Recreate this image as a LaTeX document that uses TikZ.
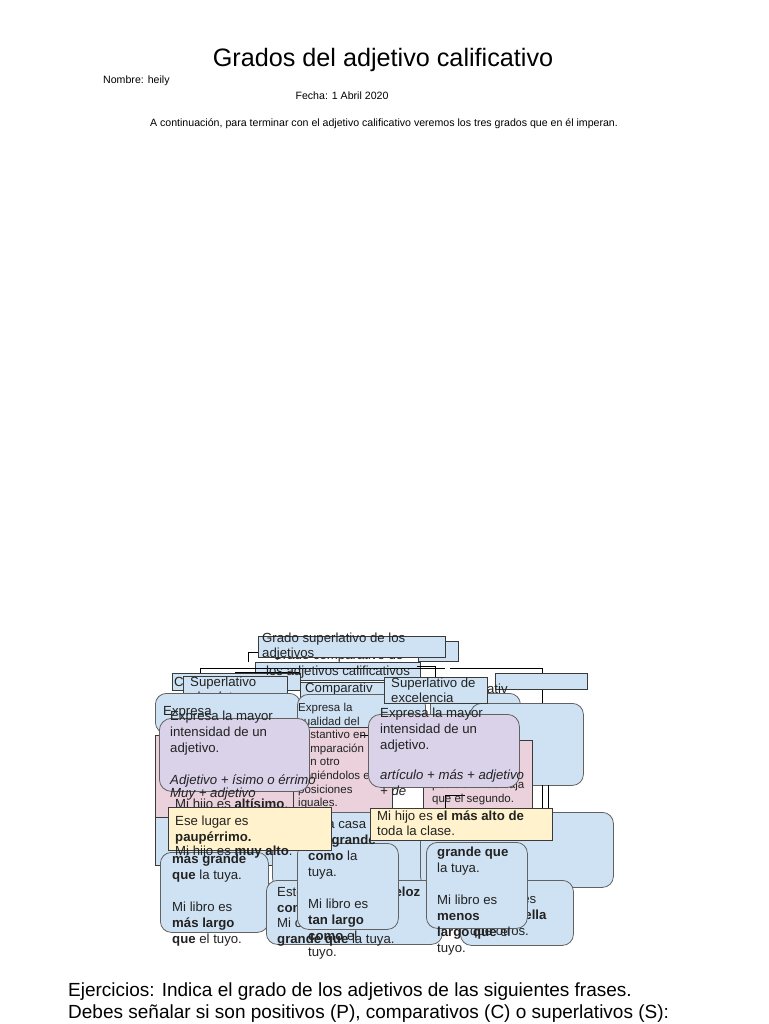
\documentclass[tikz,border=0pt]{standalone}
\usepackage{fontspec}
\setmainfont{Liberation Sans}
\definecolor{bluef}{HTML}{CFE2F3}
\definecolor{purf}{HTML}{D9D2E9}
\definecolor{pinkf}{HTML}{EAD1DC}
\definecolor{yelf}{HTML}{FFF2CC}
\definecolor{edgec}{HTML}{3A3A3A}
\definecolor{txtc}{HTML}{222222}
\tikzset{
  hdr/.style={draw=edgec, fill=bluef, line width=0.9pt, inner sep=0, anchor=north west},
  rbl/.style={draw=edgec!80, fill=bluef, line width=0.8pt, rounded corners=11pt, inner sep=0, anchor=north west},
  pur/.style={draw=edgec!80, fill=purf, line width=0.8pt, rounded corners=12pt, inner sep=0, anchor=north west},
  pnk/.style={draw=edgec, fill=pinkf, line width=0.8pt, inner sep=0, anchor=north west},
  yel/.style={draw=edgec, fill=yelf, line width=0.9pt, inner sep=0, anchor=north west},
  txt/.style={anchor=north west, inner sep=0, align=left, text=txtc, font=\fontsize{13.2}{16}\selectfont},
  txth/.style={txt, font=\fontsize{13.2}{14.5}\selectfont},
  txts/.style={txt, font=\fontsize{11.5}{13.6}\selectfont},
  conn/.style={draw=black, line width=0.9pt},
  plain/.style={inner sep=0, text=black}
}
\begin{document}
\begin{tikzpicture}[x=1pt,y=-1pt]
\useasboundingbox (0,0) rectangle (768,1024);
\fill[white] (0,0) rectangle (768,1024);

% header texts
\node[plain, font=\fontsize{25.2}{28}\selectfont] (title) at (383,60) {Grados del adjetivo calificativo};
\node[plain, anchor=west, font=\fontsize{10.6}{12}\selectfont] (nombre) at (103,81) {Nombre: heily};
\node[plain, font=\fontsize{10.6}{12}\selectfont] (fecha) at (342,96) {Fecha: 1 Abril 2020};
\node[plain, font=\fontsize{10.6}{12}\selectfont] (intro) at (384,124) {A continuación, para terminar con el adjetivo calificativo veremos los tres grados que en él imperan.};

% tree connectors (behind the boxes)
\coordinate (j1) at (200,668);
\coordinate (j2) at (445,668);
\coordinate (j3) at (235,672);
\coordinate (j4) at (300,672);
\coordinate (j5) at (417,666);
\coordinate (j6) at (435,666);
\coordinate (j7) at (450,668);
\coordinate (j8) at (542,668);
\coordinate (j9) at (360,735);
\coordinate (j10) at (372,735);

% header boxes
\node[hdr, minimum width=165, minimum height=18] (hB) at (255,662) {};
\node[hdr, minimum width=128, minimum height=17] (hC1) at (172,673) {};
\node[hdr, minimum width=92, minimum height=16] (hG) at (495,673) {};
\node[hdr, minimum width=40, minimum height=20] (hR) at (418,641) {};
\draw[conn] (j1) -- (j2);
\draw[conn] (j1) -- (hC1.north -| j1);
\draw[conn] (j3) -- (j4);
\draw[conn] (j5) -- (j6) -- (j6 |- hB.south);
\draw[conn] (j7) -- (j8) -- (hG.north -| j8);
\draw[conn] (hB.north) ++(-90,0) -- ++(0,-10) -- ++(190,0);
\node[txt, align=center, anchor=north] (tB) at (338,650) {Grado comparativo de\\los adjetivos calificativos};
\node[hdr, minimum width=187, minimum height=21] (hA) at (258,636) {};
\node[txth] (tA) at (262,633) {Grado superlativo de los\\adjetivos};
\node[txth] (tC1) at (174,677) {Comparativo de};
\node[txth] (tCR) at (440,684) {Comparativ\\o de};
\node[hdr, minimum width=125, minimum height=15] (hCI) at (300,682) {};
\node[txt] (tCI) at (305,683) {Comparativ\\o de\\igualdad};
\node[hdr, minimum width=104, minimum height=28] (hSA) at (183,676) {};
\node[txth] (tSA) at (190,677) {Superlativo\\absoluto};

% middle blue rounded boxes
\node[rbl, minimum width=145, minimum height=40] (rbL) at (155,693) {};
\node[txt] (tbL) at (163,706) {Expresa\\superioridad};
\node[rbl, minimum width=128, minimum height=52] (rbM) at (297,694) {};
\node[rbl, minimum width=90, minimum height=65] (rbR) at (430,693) {};
\node[rbl, minimum width=113, minimum height=82] (rbR2) at (470,703) {};
\draw[conn] (hG.south -| j8) -- (rbR2.north -| j8);
\node[hdr, minimum width=103, minimum height=26] (hSE) at (384,677) {};
\node[txth] (tSE) at (391,678) {Superlativo de\\excelencia};

% pink boxes
\node[pnk, minimum width=145, minimum height=88] (pkL) at (155,735) {};
\node[pnk, minimum width=99, minimum height=88] (pkM) at (293,727) {};
\node[pnk, minimum width=109, minimum height=70] (pkR) at (423,740) {};
\draw[conn] (j9) -- (j10);
\draw[conn] (445,808) -- (445,795) -- (465,795);
\draw[conn] (542,785) -- (542,812);
\draw[conn] (548,785) -- (548,812);
\node[txts] (tpM) at (298,703) {Expresa la\\cualidad del\\sustantivo en\\comparación\\con otro\\poniéndolos en\\posiciones\\iguales.};
\node[txts] (tpR) at (432,780) {posición más baja\\que el segundo.};

% purple boxes
\node[pur, minimum width=150, minimum height=73] (puL) at (159,718) {};
\node[txt] (tuL) at (170,711) {Expresa la mayor\\intensidad de un\\adjetivo.\\[16pt]\textit{Adjetivo + ísimo o érrimo}};
\node[pur, minimum width=151, minimum height=73] (puR) at (368,714) {};
\node[txt] (tuR) at (380,708) {Expresa la mayor\\intensidad de un\\adjetivo.\\[14pt]\textit{artículo + más + adjetivo}\\\textit{+ de}};
\node[txt] (tmuy) at (170,788) {\textit{Muy + adjetivo}};
\node[txt] (talt) at (175,799) {Mi hijo es \textbf{altísimo}.};

% lower blue boxes
\node[hdr, minimum width=145, minimum height=48] (lbL) at (155,817) {};
\node[rbl, minimum width=158, minimum height=76] (mb1) at (272,812) {};
\node[rbl, minimum width=193, minimum height=75] (rbig) at (420,812) {};
\node[rbl, minimum width=108, minimum height=80] (lbL2) at (160,852) {};
\node[rbl, minimum width=176, minimum height=64] (mb2) at (266,880) {};
\node[rbl, minimum width=113, minimum height=65] (rb5) at (460,880) {};
\node[txt] (tlb) at (172,838) {Esta casa es\\\textbf{más grande}\\\textbf{que} la tuya.\\[16pt]Mi libro es\\\textbf{más largo}\\\textbf{que} el tuyo.};
\node[txt, font=\fontsize{13.2}{15.5}\selectfont] (tmb2) at (277,887) {Este coche es \textbf{tan veloz}\\\textbf{como} el tuyo.\\Mi casa es \textbf{tan}\\\textbf{grande que} la tuya.};
\node[txt] (trb5) at (470,894) {Esta flor es\\\textbf{menos bella}\\que otros.};
\node[rbl, minimum width=101, minimum height=86] (mb3) at (297,843) {};
\node[rbl, minimum width=101, minimum height=86] (rb6) at (426,842) {};
\node[txt] (tmb3) at (308,819) {Esta casa es\\\textbf{tan grande}\\\textbf{como} la\\tuya.\\[16pt]Mi libro es\\\textbf{tan largo}\\\textbf{como} el\\tuyo.};
\node[txt] (trb6) at (437,815) {Esta casa es\\\textbf{menos}\\\textbf{grande que}\\la tuya.\\[16pt]Mi libro es\\\textbf{menos}\\\textbf{largo que} el\\tuyo.};

% yellow example boxes
\node[yel, minimum width=163, minimum height=43] (yL) at (168,807) {};
\node[txt] (tyL) at (175,816) {Ese lugar es\\\textbf{paupérrimo.}};
\node[yel, minimum width=182, minimum height=32] (yR) at (370,808) {};
\node[txt, font=\fontsize{13.2}{15}\selectfont] (tyR) at (377,811) {Mi hijo es \textbf{el más alto de}\\toda la clase.};
\node[txt] (tmal) at (175,846) {Mi hijo es \textbf{muy alto}.};

% exercise text
\node[plain, anchor=north west, align=left, font=\fontsize{19}{22}\selectfont] (ejer) at (68,983) {Ejercicios: Indica el grado de los adjetivos de las siguientes frases.\\Debes señalar si son positivos (P), comparativos (C) o superlativos (S):};
\end{tikzpicture}
\end{document}
